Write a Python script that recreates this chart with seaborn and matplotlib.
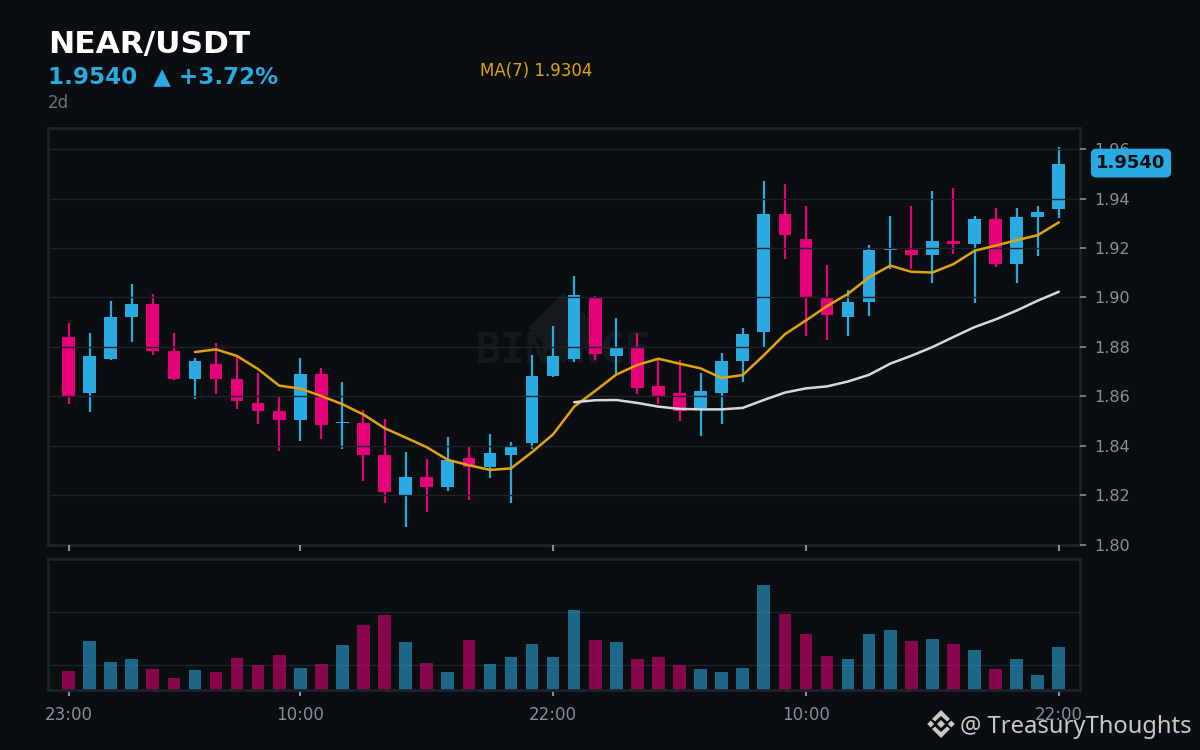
import matplotlib
matplotlib.use('Agg')
import matplotlib.pyplot as plt
from matplotlib.patches import Polygon
import numpy as np
import pandas as pd
import seaborn as sns

# Hourly NEAR/USDT candles
opens = [1.8840, 1.8613, 1.8751, 1.8921, 1.8973, 1.8783, 1.8670, 1.8731, 1.8670, 1.8573,
         1.8541, 1.8504, 1.8690, 1.8493, 1.8492, 1.8363, 1.8201, 1.8274, 1.8234, 1.8351,
         1.8314, 1.8363, 1.8411, 1.8682, 1.8751, 1.8997, 1.8763, 1.8799, 1.8642, 1.8613,
         1.8553, 1.8613, 1.8743, 1.8859, 1.9339, 1.9238, 1.8996, 1.8919, 1.8980, 1.9192,
         1.9194, 1.9170, 1.9230, 1.9218, 1.9319, 1.9137, 1.9327, 1.9360]
closes = [1.8603, 1.8763, 1.8921, 1.8973, 1.8783, 1.8670, 1.8743, 1.8670, 1.8581, 1.8541,
          1.8504, 1.8690, 1.8484, 1.8497, 1.8363, 1.8213, 1.8274, 1.8234, 1.8343, 1.8314,
          1.8371, 1.8399, 1.8682, 1.8763, 1.9009, 1.8771, 1.8799, 1.8634, 1.8601, 1.8541,
          1.8622, 1.8743, 1.8852, 1.9339, 1.9251, 1.9000, 1.8931, 1.8980, 1.9194, 1.9195,
          1.9170, 1.9230, 1.9218, 1.9319, 1.9137, 1.9327, 1.9347, 1.9540]
highs = [1.8896, 1.8856, 1.8985, 1.9054, 1.9013, 1.8856, 1.8755, 1.8815, 1.8763, 1.8694,
         1.8597, 1.8755, 1.8714, 1.8658, 1.8545, 1.8508, 1.8375, 1.8347, 1.8436, 1.8395,
         1.8448, 1.8415, 1.8767, 1.8884, 1.9086, 1.9005, 1.8916, 1.8856, 1.8755, 1.8747,
         1.8694, 1.8775, 1.8876, 1.9473, 1.9461, 1.9372, 1.9133, 1.9032, 1.9214, 1.9331,
         1.9372, 1.9432, 1.9444, 1.9331, 1.9364, 1.9364, 1.9372, 1.9610]
lows = [1.8570, 1.8537, 1.8747, 1.8821, 1.8767, 1.8666, 1.8589, 1.8609, 1.8549, 1.8488,
        1.8379, 1.8420, 1.8428, 1.8387, 1.8258, 1.8169, 1.8071, 1.8132, 1.8218, 1.8181,
        1.8270, 1.8169, 1.8387, 1.8678, 1.8739, 1.8747, 1.8686, 1.8609, 1.8569, 1.8500,
        1.8440, 1.8488, 1.8658, 1.8798, 1.9154, 1.8846, 1.8826, 1.8846, 1.8927, 1.9117,
        1.9117, 1.9057, 1.9174, 1.8976, 1.9125, 1.9057, 1.9166, 1.9323]
volumes = [37.2, 92.9, 52.6, 58.3, 41.0, 23.7, 39.1, 35.3, 60.3, 46.8,
           66.0, 42.9, 48.7, 85.3, 123.7, 142.9, 91.0, 50.6, 35.3, 94.9,
           48.7, 62.2, 87.2, 62.2, 152.6, 94.9, 91.0, 58.3, 62.2, 46.8,
           41.0, 35.3, 42.9, 200.6, 144.9, 106.4, 64.1, 58.3, 106.4, 114.1,
           92.9, 96.8, 87.2, 75.6, 41.0, 58.3, 29.5, 81.4]

# moving averages only start once enough candles exist
ma7 = [1.8779, 1.8790, 1.8763, 1.8710, 1.8643, 1.8631, 1.8601, 1.8568, 1.8526, 1.8471,
       1.8433, 1.8394, 1.8343, 1.8321, 1.8302, 1.8308, 1.8374, 1.8446, 1.8558, 1.8622,
       1.8688, 1.8727, 1.8752, 1.8732, 1.8713, 1.8674, 1.8686, 1.8766, 1.8851, 1.8907,
       1.8965, 1.9015, 1.9082, 1.9129, 1.9104, 1.9101, 1.9135, 1.9189, 1.9210, 1.9232,
       1.9252, 1.9304]
ma25 = [1.8576, 1.8584, 1.8585, 1.8573, 1.8558, 1.8549, 1.8547, 1.8547, 1.8553, 1.8585,
        1.8615, 1.8632, 1.8640, 1.8660, 1.8687, 1.8732, 1.8764, 1.8799, 1.8840, 1.8880,
        1.8911, 1.8947, 1.8987, 1.9023]

time_ticks = [0, 11, 23, 35, 47]
time_labels = ['23:00', '10:00', '22:00', '10:00', '22:00']
price_ticks = [1.80, 1.82, 1.84, 1.86, 1.88, 1.90, 1.92, 1.94, 1.96]
volume_grid = [48, 148]

BG = '#0B0E11'
BLUE = '#29ABE2'
PINK = '#E6007A'
GOLD = '#E0A30F'
WHITE = '#D8D8D8'
GRID = '#1E2329'
MUTED = '#848E9C'

sns.set_theme(style='dark', rc={
    'figure.facecolor': BG,
    'axes.facecolor': BG,
    'axes.edgecolor': GRID,
    'axes.linewidth': 2.0,
    'grid.color': GRID,
    'grid.linewidth': 1.0,
    'xtick.color': MUTED,
    'ytick.color': MUTED,
})
plt.rcParams['font.family'] = ['DejaVu Sans']

df = pd.DataFrame({'i': range(len(opens)), 'open': opens, 'close': closes,
                   'high': highs, 'low': lows, 'volume': volumes})
df['up'] = df['close'] >= df['open']
df['body'] = (df['close'] - df['open']).abs()
df['base'] = df[['open', 'close']].min(axis=1)

W, H = 1200, 750
fig = plt.figure(figsize=(12, 7.5), dpi=100)
ax = fig.add_axes([48 / W, (H - 545) / H, 1032 / W, 417 / H])
vol_ax = fig.add_axes([48 / W, (H - 690) / H, 1032 / W, 131 / H])


def fig_xy(x, y):
    # picture pixels to figure fraction
    return x / W, 1 - y / H


# faint watermark behind the candles
ax.add_patch(Polygon([fig_xy(563, 293), fig_xy(598, 328), fig_xy(563, 363), fig_xy(528, 328)],
                     closed=True, transform=fig.transFigure, fc='#15191D', ec='none', zorder=0.5))
ax.text(*fig_xy(563, 351), 'BINANCE', transform=fig.transFigure, ha='center', va='center',
        family='DejaVu Sans Mono', weight='bold', fontsize=30, color='#15191D', zorder=0.6)

# candles
for is_up, color in [(True, BLUE), (False, PINK)]:
    part = df[df['up'] == is_up]
    ax.vlines(part['i'], part['low'], part['high'], color=color, lw=1.6, zorder=1)
    sns.barplot(data=part, x='i', y='body', bottom=part['base'].values, native_scale=True,
                color=color, saturation=1, width=0.6, errorbar=None, linewidth=0,
                edgecolor='none', zorder=1, ax=ax)
    sns.barplot(data=part, x='i', y='volume', native_scale=True, color=color, saturation=1,
                width=0.6, errorbar=None, linewidth=0, edgecolor='none', alpha=0.57,
                ax=vol_ax)

sns.lineplot(x=df['i'].values[-len(ma7):], y=ma7, color=GOLD, lw=1.8, zorder=3, ax=ax)
sns.lineplot(x=df['i'].values[-len(ma25):], y=ma25, color=WHITE, lw=1.8, zorder=3, ax=ax)

ax.set_xlim(-0.973, 48.007)
ax.set_ylim(1.7998, 1.9686)
ax.set_axisbelow(False)
ax.grid(True, axis='y', zorder=2.5)
ax.grid(False, axis='x')
ax.yaxis.tick_right()
ax.set_yticks(price_ticks)
ax.set_yticklabels([f'{p:.2f}' for p in price_ticks])
ax.set_xticks(time_ticks)
ax.set_xticklabels([])
ax.set_xlabel('')
ax.set_ylabel('')
ax.tick_params(axis='y', length=4.5, width=1.2, pad=6, labelsize=11.5, right=True, left=False)
ax.tick_params(axis='x', length=4.5, width=1.5, bottom=True)

vol_ax.set_xlim(-0.973, 48.007)
vol_ax.set_ylim(0, 250)
vol_ax.set_yticks(volume_grid)
vol_ax.set_yticklabels([])
vol_ax.set_axisbelow(True)
vol_ax.grid(True, axis='y')
vol_ax.grid(False, axis='x')
vol_ax.set_xticks(time_ticks)
vol_ax.set_xticklabels(time_labels)
vol_ax.set_xlabel('')
vol_ax.set_ylabel('')
vol_ax.tick_params(axis='y', length=0)
vol_ax.tick_params(axis='x', length=4.5, width=1.5, pad=7, labelsize=12, bottom=True)

# last price badge
ax.text(1.0494, closes[-1] + 0.0004, f'{closes[-1]:.4f}', transform=ax.get_yaxis_transform(),
        ha='center', va='center', fontsize=13, weight='bold', color=BG, zorder=6, clip_on=False,
        bbox=dict(boxstyle='round,pad=0.3,rounding_size=0.3', fc=BLUE, ec='none'))

# header
fig.text(48 / W, 1 - 53 / H, 'NEAR/USDT', fontsize=22.5, weight='bold', color='white')
fig.text(48 / W, 1 - 83 / H, f'{closes[-1]:.4f}  ▲ +3.72%', fontsize=16.6, weight='bold', color=BLUE)
fig.text(48 / W, 1 - 108.5 / H, '2d', fontsize=12, color='#6B7280')
fig.text(480 / W, 1 - 76 / H, f'MA(7) {ma7[-1]:.4f}', fontsize=12, color=GOLD)

# bottom right credit with the small diamond logo
fig.text(959.5 / W, 1 - 733 / H, '@ TreasuryThoughts', fontsize=17.1, family='Noto Sans',
         color='#C8C8C8', zorder=10)
logo_shapes = [
    [(941, 720), (945, 724), (941, 728), (937, 724)],
    [(930.7, 720.5), (934.2, 724), (930.7, 727.5), (927.2, 724)],
    [(951.3, 720.5), (954.8, 724), (951.3, 727.5), (947.8, 724)],
    [(941, 710), (950, 719), (947, 721.5), (941, 716), (935, 721.5), (932, 719)],
    [(941, 738), (950, 729), (947, 726.5), (941, 732), (935, 726.5), (932, 729)],
]
for shape in logo_shapes:
    fig.add_artist(Polygon([fig_xy(x, y) for x, y in shape], closed=True,
                           transform=fig.transFigure, fc='#C8C8C8', ec='none', zorder=10))

fig.savefig('out.png', dpi=100, facecolor=BG)
plt.close(fig)
